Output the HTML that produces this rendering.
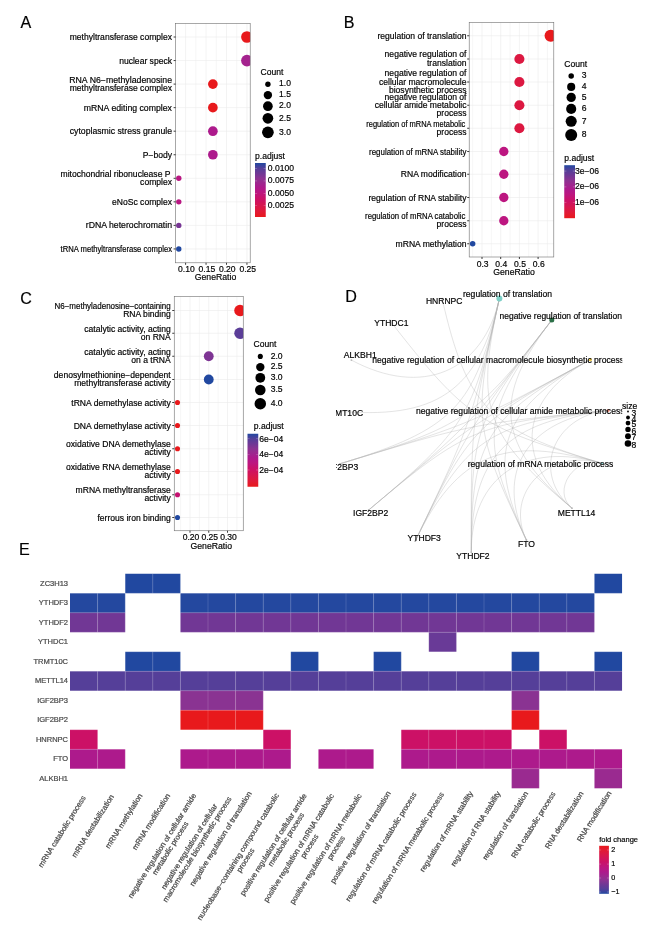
<!DOCTYPE html>
<html><head><meta charset="utf-8"><title>Figure</title>
<style>
html,body{margin:0;padding:0;background:#fff}
svg{display:block}
text{font-family:"Liberation Sans",Arial,Helvetica,sans-serif;stroke:#000;stroke-width:0.18px;paint-order:stroke}
</style></head><body>
<svg width="672" height="945" viewBox="0 0 672 945">
<rect width="672" height="945" fill="#fff"/>
<defs><linearGradient id="gbt" x1="0" y1="0" x2="0" y2="1"><stop offset="0.000" stop-color="#2148a0"/><stop offset="0.100" stop-color="#553f99"/><stop offset="0.200" stop-color="#713795"/><stop offset="0.280" stop-color="#8a3392"/><stop offset="0.350" stop-color="#9a2a90"/><stop offset="0.450" stop-color="#ad1a8c"/><stop offset="0.550" stop-color="#bc1680"/><stop offset="0.670" stop-color="#cc1166"/><stop offset="0.800" stop-color="#d8174c"/><stop offset="0.900" stop-color="#e11a36"/><stop offset="1.000" stop-color="#e8191c"/></linearGradient><linearGradient id="grt" x1="0" y1="0" x2="0" y2="1"><stop offset="0.000" stop-color="#e8191c"/><stop offset="0.100" stop-color="#e11a36"/><stop offset="0.200" stop-color="#d8174c"/><stop offset="0.330" stop-color="#cc1166"/><stop offset="0.450" stop-color="#bc1680"/><stop offset="0.550" stop-color="#ad1a8c"/><stop offset="0.650" stop-color="#9a2a90"/><stop offset="0.720" stop-color="#8a3392"/><stop offset="0.800" stop-color="#713795"/><stop offset="0.900" stop-color="#553f99"/><stop offset="1.000" stop-color="#2148a0"/></linearGradient>
<clipPath id="clipD"><rect x="336" y="282" width="286.2" height="310"/></clipPath>
</defs>
<text x="20.50" y="27.90" font-size="16.1" fill="#000" stroke="none">A</text>
<text x="343.80" y="27.90" font-size="16.1" fill="#000" stroke="none">B</text>
<text x="20.30" y="303.60" font-size="16.1" fill="#000" stroke="none">C</text>
<text x="345.15" y="302.00" font-size="16.1" fill="#000" stroke="none">D</text>
<text x="19.00" y="554.90" font-size="16.1" fill="#000" stroke="none">E</text>
<clipPath id="cpA"><rect x="175.6" y="23.3" width="74.6" height="239.5"/></clipPath>
<line x1="195.82" x2="195.82" y1="23.3" y2="262.8" stroke="#ebebeb" stroke-width="0.45"/>
<line x1="216.27" x2="216.27" y1="23.3" y2="262.8" stroke="#ebebeb" stroke-width="0.45"/>
<line x1="236.72" x2="236.72" y1="23.3" y2="262.8" stroke="#ebebeb" stroke-width="0.45"/>
<line x1="185.60" x2="185.60" y1="23.3" y2="262.8" stroke="#ebebeb" stroke-width="0.6"/>
<line x1="206.05" x2="206.05" y1="23.3" y2="262.8" stroke="#ebebeb" stroke-width="0.6"/>
<line x1="226.50" x2="226.50" y1="23.3" y2="262.8" stroke="#ebebeb" stroke-width="0.6"/>
<line x1="246.95" x2="246.95" y1="23.3" y2="262.8" stroke="#ebebeb" stroke-width="0.6"/>
<line x1="175.6" x2="250.2" y1="37.00" y2="37.00" stroke="#ebebeb" stroke-width="0.6"/>
<line x1="175.6" x2="250.2" y1="60.55" y2="60.55" stroke="#ebebeb" stroke-width="0.6"/>
<line x1="175.6" x2="250.2" y1="84.10" y2="84.10" stroke="#ebebeb" stroke-width="0.6"/>
<line x1="175.6" x2="250.2" y1="107.65" y2="107.65" stroke="#ebebeb" stroke-width="0.6"/>
<line x1="175.6" x2="250.2" y1="131.20" y2="131.20" stroke="#ebebeb" stroke-width="0.6"/>
<line x1="175.6" x2="250.2" y1="154.75" y2="154.75" stroke="#ebebeb" stroke-width="0.6"/>
<line x1="175.6" x2="250.2" y1="178.30" y2="178.30" stroke="#ebebeb" stroke-width="0.6"/>
<line x1="175.6" x2="250.2" y1="201.85" y2="201.85" stroke="#ebebeb" stroke-width="0.6"/>
<line x1="175.6" x2="250.2" y1="225.40" y2="225.40" stroke="#ebebeb" stroke-width="0.6"/>
<line x1="175.6" x2="250.2" y1="248.95" y2="248.95" stroke="#ebebeb" stroke-width="0.6"/>
<g clip-path="url(#cpA)">
<circle cx="246.95" cy="37.00" r="5.85" fill="#e8191c"/>
<circle cx="246.95" cy="60.55" r="5.85" fill="#a4228e"/>
<circle cx="212.87" cy="84.10" r="4.85" fill="#e8191c"/>
<circle cx="212.87" cy="107.65" r="4.85" fill="#e8191c"/>
<circle cx="212.87" cy="131.20" r="4.85" fill="#ad1a8c"/>
<circle cx="212.87" cy="154.75" r="4.85" fill="#ad1a8c"/>
<circle cx="178.78" cy="178.30" r="2.7" fill="#b91782"/>
<circle cx="178.78" cy="201.85" r="2.7" fill="#b91782"/>
<circle cx="178.78" cy="225.40" r="2.7" fill="#773694"/>
<circle cx="178.78" cy="248.95" r="2.7" fill="#2148a0"/>
</g>
<rect x="175.6" y="23.3" width="74.6" height="239.5" fill="none" stroke="#6e6e6e" stroke-width="0.6"/>
<line x1="173.60" x2="175.6" y1="37.00" y2="37.00" stroke="#1a1a1a" stroke-width="0.85"/>
<text x="172.00" y="40.00" font-size="8.57" text-anchor="end" fill="#000">methyltransferase complex</text>
<line x1="173.60" x2="175.6" y1="60.55" y2="60.55" stroke="#1a1a1a" stroke-width="0.85"/>
<text x="172.00" y="63.55" font-size="8.57" text-anchor="end" fill="#000">nuclear speck</text>
<line x1="173.60" x2="175.6" y1="84.10" y2="84.10" stroke="#1a1a1a" stroke-width="0.85"/>
<text x="172.00" y="82.57" font-size="8.57" text-anchor="end" textLength="102.75" lengthAdjust="spacingAndGlyphs" fill="#000">RNA N6−methyladenosine</text>
<text x="172.00" y="90.62" font-size="8.57" text-anchor="end" fill="#000">methyltransferase complex</text>
<line x1="173.60" x2="175.6" y1="107.65" y2="107.65" stroke="#1a1a1a" stroke-width="0.85"/>
<text x="172.00" y="110.65" font-size="8.57" text-anchor="end" textLength="88.25" lengthAdjust="spacingAndGlyphs" fill="#000">mRNA editing complex</text>
<line x1="173.60" x2="175.6" y1="131.20" y2="131.20" stroke="#1a1a1a" stroke-width="0.85"/>
<text x="172.00" y="134.20" font-size="8.57" text-anchor="end" textLength="102.25" lengthAdjust="spacingAndGlyphs" fill="#000">cytoplasmic stress granule</text>
<line x1="173.60" x2="175.6" y1="154.75" y2="154.75" stroke="#1a1a1a" stroke-width="0.85"/>
<text x="172.00" y="157.75" font-size="8.57" text-anchor="end" fill="#000">P−body</text>
<line x1="173.60" x2="175.6" y1="178.30" y2="178.30" stroke="#1a1a1a" stroke-width="0.85"/>
<text x="170.50" y="176.78" font-size="8.57" text-anchor="end" textLength="110.00" lengthAdjust="spacingAndGlyphs" fill="#000">mitochondrial ribonuclease P</text>
<text x="172.00" y="184.83" font-size="8.57" text-anchor="end" fill="#000">complex</text>
<line x1="173.60" x2="175.6" y1="201.85" y2="201.85" stroke="#1a1a1a" stroke-width="0.85"/>
<text x="172.00" y="204.85" font-size="8.57" text-anchor="end" fill="#000">eNoSc complex</text>
<line x1="173.60" x2="175.6" y1="225.40" y2="225.40" stroke="#1a1a1a" stroke-width="0.85"/>
<text x="172.00" y="228.40" font-size="8.57" text-anchor="end" textLength="86.25" lengthAdjust="spacingAndGlyphs" fill="#000">rDNA heterochromatin</text>
<line x1="173.60" x2="175.6" y1="248.95" y2="248.95" stroke="#1a1a1a" stroke-width="0.85"/>
<text x="172.00" y="251.95" font-size="8.57" text-anchor="end" textLength="111.50" lengthAdjust="spacingAndGlyphs" fill="#000">tRNA methyltransferase complex</text>
<line x1="185.60" x2="185.60" y1="262.8" y2="264.80" stroke="#1a1a1a" stroke-width="0.85"/>
<text x="186.40" y="272.00" font-size="8.57" text-anchor="middle" fill="#000">0.10</text>
<line x1="206.05" x2="206.05" y1="262.8" y2="264.80" stroke="#1a1a1a" stroke-width="0.85"/>
<text x="206.85" y="272.00" font-size="8.57" text-anchor="middle" fill="#000">0.15</text>
<line x1="226.50" x2="226.50" y1="262.8" y2="264.80" stroke="#1a1a1a" stroke-width="0.85"/>
<text x="227.30" y="272.00" font-size="8.57" text-anchor="middle" fill="#000">0.20</text>
<line x1="246.95" x2="246.95" y1="262.8" y2="264.80" stroke="#1a1a1a" stroke-width="0.85"/>
<text x="247.75" y="272.00" font-size="8.57" text-anchor="middle" fill="#000">0.25</text>
<text x="215.50" y="280.30" font-size="8.7" text-anchor="middle" fill="#000">GeneRatio</text>
<text x="260.50" y="74.60" font-size="8.57" fill="#000">Count</text>
<circle cx="267.9" cy="84.2" r="2.7" fill="#000"/>
<text x="279.00" y="86.40" font-size="8.57" fill="#000">1.0</text>
<circle cx="267.9" cy="95.1" r="4.2" fill="#000"/>
<text x="279.00" y="97.30" font-size="8.57" fill="#000">1.5</text>
<circle cx="267.9" cy="106.2" r="4.85" fill="#000"/>
<text x="279.00" y="108.40" font-size="8.57" fill="#000">2.0</text>
<circle cx="267.9" cy="118.3" r="5.35" fill="#000"/>
<text x="279.00" y="120.50" font-size="8.57" fill="#000">2.5</text>
<circle cx="267.9" cy="132.3" r="5.85" fill="#000"/>
<text x="279.00" y="134.50" font-size="8.57" fill="#000">3.0</text>
<text x="255.00" y="158.75" font-size="8.57" fill="#000">p.adjust</text>
<rect x="255" y="163" width="10.75" height="54" fill="url(#gbt)"/>
<text x="267.75" y="170.75" font-size="8.57" fill="#000">0.0100</text>
<line x1="255" x2="257.1" y1="168.65" y2="168.65" stroke="#fff" stroke-width="0.4" opacity="0.6"/><line x1="263.6" x2="265.75" y1="168.65" y2="168.65" stroke="#fff" stroke-width="0.4" opacity="0.6"/>
<text x="267.75" y="183.00" font-size="8.57" fill="#000">0.0075</text>
<line x1="255" x2="257.1" y1="180.9" y2="180.9" stroke="#fff" stroke-width="0.4" opacity="0.6"/><line x1="263.6" x2="265.75" y1="180.9" y2="180.9" stroke="#fff" stroke-width="0.4" opacity="0.6"/>
<text x="267.75" y="195.50" font-size="8.57" fill="#000">0.0050</text>
<line x1="255" x2="257.1" y1="193.4" y2="193.4" stroke="#fff" stroke-width="0.4" opacity="0.6"/><line x1="263.6" x2="265.75" y1="193.4" y2="193.4" stroke="#fff" stroke-width="0.4" opacity="0.6"/>
<text x="267.75" y="207.50" font-size="8.57" fill="#000">0.0025</text>
<line x1="255" x2="257.1" y1="205.4" y2="205.4" stroke="#fff" stroke-width="0.4" opacity="0.6"/><line x1="263.6" x2="265.75" y1="205.4" y2="205.4" stroke="#fff" stroke-width="0.4" opacity="0.6"/>
<clipPath id="cpB"><rect x="469.2" y="22.5" width="84.59999999999997" height="234.5"/></clipPath>
<line x1="472.65" x2="472.65" y1="22.5" y2="257" stroke="#ebebeb" stroke-width="0.45"/>
<line x1="491.35" x2="491.35" y1="22.5" y2="257" stroke="#ebebeb" stroke-width="0.45"/>
<line x1="510.05" x2="510.05" y1="22.5" y2="257" stroke="#ebebeb" stroke-width="0.45"/>
<line x1="528.75" x2="528.75" y1="22.5" y2="257" stroke="#ebebeb" stroke-width="0.45"/>
<line x1="547.45" x2="547.45" y1="22.5" y2="257" stroke="#ebebeb" stroke-width="0.45"/>
<line x1="482.00" x2="482.00" y1="22.5" y2="257" stroke="#ebebeb" stroke-width="0.6"/>
<line x1="500.70" x2="500.70" y1="22.5" y2="257" stroke="#ebebeb" stroke-width="0.6"/>
<line x1="519.40" x2="519.40" y1="22.5" y2="257" stroke="#ebebeb" stroke-width="0.6"/>
<line x1="538.10" x2="538.10" y1="22.5" y2="257" stroke="#ebebeb" stroke-width="0.6"/>
<line x1="469.2" x2="553.8" y1="35.75" y2="35.75" stroke="#ebebeb" stroke-width="0.6"/>
<line x1="469.2" x2="553.8" y1="59.00" y2="59.00" stroke="#ebebeb" stroke-width="0.6"/>
<line x1="469.2" x2="553.8" y1="82.00" y2="82.00" stroke="#ebebeb" stroke-width="0.6"/>
<line x1="469.2" x2="553.8" y1="105.25" y2="105.25" stroke="#ebebeb" stroke-width="0.6"/>
<line x1="469.2" x2="553.8" y1="128.25" y2="128.25" stroke="#ebebeb" stroke-width="0.6"/>
<line x1="469.2" x2="553.8" y1="151.50" y2="151.50" stroke="#ebebeb" stroke-width="0.6"/>
<line x1="469.2" x2="553.8" y1="174.25" y2="174.25" stroke="#ebebeb" stroke-width="0.6"/>
<line x1="469.2" x2="553.8" y1="197.50" y2="197.50" stroke="#ebebeb" stroke-width="0.6"/>
<line x1="469.2" x2="553.8" y1="220.75" y2="220.75" stroke="#ebebeb" stroke-width="0.6"/>
<line x1="469.2" x2="553.8" y1="243.75" y2="243.75" stroke="#ebebeb" stroke-width="0.6"/>
<g clip-path="url(#cpB)">
<circle cx="550.57" cy="35.75" r="6.0" fill="#e8191c"/>
<circle cx="519.40" cy="59.00" r="5.05" fill="#dc1841"/>
<circle cx="519.40" cy="82.00" r="5.05" fill="#dc1841"/>
<circle cx="519.40" cy="105.25" r="5.05" fill="#dc1841"/>
<circle cx="519.40" cy="128.25" r="5.05" fill="#dc1841"/>
<circle cx="503.82" cy="151.50" r="4.65" fill="#bc1680"/>
<circle cx="503.82" cy="174.25" r="4.65" fill="#bc1680"/>
<circle cx="503.82" cy="197.50" r="4.65" fill="#bc1680"/>
<circle cx="503.82" cy="220.75" r="4.65" fill="#bc1680"/>
<circle cx="472.65" cy="243.75" r="2.75" fill="#2148a0"/>
</g>
<rect x="469.2" y="22.5" width="84.59999999999997" height="234.5" fill="none" stroke="#6e6e6e" stroke-width="0.6"/>
<line x1="467.20" x2="469.2" y1="35.75" y2="35.75" stroke="#1a1a1a" stroke-width="0.85"/>
<text x="466.50" y="38.75" font-size="8.57" text-anchor="end" fill="#000">regulation of translation</text>
<line x1="467.20" x2="469.2" y1="59.00" y2="59.00" stroke="#1a1a1a" stroke-width="0.85"/>
<text x="466.50" y="57.48" font-size="8.57" text-anchor="end" fill="#000">negative regulation of</text>
<text x="466.50" y="65.53" font-size="8.57" text-anchor="end" fill="#000">translation</text>
<line x1="467.20" x2="469.2" y1="82.00" y2="82.00" stroke="#1a1a1a" stroke-width="0.85"/>
<text x="466.50" y="76.45" font-size="8.57" text-anchor="end" fill="#000">negative regulation of</text>
<text x="466.50" y="84.50" font-size="8.57" text-anchor="end" fill="#000">cellular macromolecule</text>
<text x="466.50" y="92.55" font-size="8.57" text-anchor="end" fill="#000">biosynthetic process</text>
<line x1="467.20" x2="469.2" y1="105.25" y2="105.25" stroke="#1a1a1a" stroke-width="0.85"/>
<text x="466.50" y="99.70" font-size="8.57" text-anchor="end" fill="#000">negative regulation of</text>
<text x="466.50" y="107.75" font-size="8.57" text-anchor="end" fill="#000">cellular amide metabolic</text>
<text x="466.50" y="115.80" font-size="8.57" text-anchor="end" fill="#000">process</text>
<line x1="467.20" x2="469.2" y1="128.25" y2="128.25" stroke="#1a1a1a" stroke-width="0.85"/>
<text x="465.30" y="126.72" font-size="8.57" text-anchor="end" textLength="99.00" lengthAdjust="spacingAndGlyphs" fill="#000">regulation of mRNA metabolic</text>
<text x="466.50" y="134.78" font-size="8.57" text-anchor="end" fill="#000">process</text>
<line x1="467.20" x2="469.2" y1="151.50" y2="151.50" stroke="#1a1a1a" stroke-width="0.85"/>
<text x="466.50" y="154.50" font-size="8.57" text-anchor="end" textLength="97.50" lengthAdjust="spacingAndGlyphs" fill="#000">regulation of mRNA stability</text>
<line x1="467.20" x2="469.2" y1="174.25" y2="174.25" stroke="#1a1a1a" stroke-width="0.85"/>
<text x="466.50" y="177.25" font-size="8.57" text-anchor="end" fill="#000">RNA modification</text>
<line x1="467.20" x2="469.2" y1="197.50" y2="197.50" stroke="#1a1a1a" stroke-width="0.85"/>
<text x="466.50" y="200.50" font-size="8.57" text-anchor="end" fill="#000">regulation of RNA stability</text>
<line x1="467.20" x2="469.2" y1="220.75" y2="220.75" stroke="#1a1a1a" stroke-width="0.85"/>
<text x="465.30" y="219.22" font-size="8.57" text-anchor="end" textLength="100.25" lengthAdjust="spacingAndGlyphs" fill="#000">regulation of mRNA catabolic</text>
<text x="466.50" y="227.28" font-size="8.57" text-anchor="end" fill="#000">process</text>
<line x1="467.20" x2="469.2" y1="243.75" y2="243.75" stroke="#1a1a1a" stroke-width="0.85"/>
<text x="466.50" y="246.75" font-size="8.57" text-anchor="end" fill="#000">mRNA methylation</text>
<line x1="482.00" x2="482.00" y1="257" y2="259.00" stroke="#1a1a1a" stroke-width="0.85"/>
<text x="482.60" y="266.60" font-size="8.57" text-anchor="middle" fill="#000">0.3</text>
<line x1="500.70" x2="500.70" y1="257" y2="259.00" stroke="#1a1a1a" stroke-width="0.85"/>
<text x="501.30" y="266.60" font-size="8.57" text-anchor="middle" fill="#000">0.4</text>
<line x1="519.40" x2="519.40" y1="257" y2="259.00" stroke="#1a1a1a" stroke-width="0.85"/>
<text x="520.00" y="266.60" font-size="8.57" text-anchor="middle" fill="#000">0.5</text>
<line x1="538.10" x2="538.10" y1="257" y2="259.00" stroke="#1a1a1a" stroke-width="0.85"/>
<text x="538.70" y="266.60" font-size="8.57" text-anchor="middle" fill="#000">0.6</text>
<text x="514.00" y="275.00" font-size="8.7" text-anchor="middle" fill="#000">GeneRatio</text>
<text x="564.25" y="66.80" font-size="8.57" fill="#000">Count</text>
<circle cx="571.2" cy="76.0" r="2.75" fill="#000"/>
<text x="581.70" y="78.40" font-size="8.57" fill="#000">3</text>
<circle cx="571.2" cy="86.9" r="4.05" fill="#000"/>
<text x="581.70" y="89.30" font-size="8.57" fill="#000">4</text>
<circle cx="571.2" cy="97.4" r="4.65" fill="#000"/>
<text x="581.70" y="99.80" font-size="8.57" fill="#000">5</text>
<circle cx="571.2" cy="108.9" r="5.05" fill="#000"/>
<text x="581.70" y="111.30" font-size="8.57" fill="#000">6</text>
<circle cx="571.2" cy="121.3" r="5.55" fill="#000"/>
<text x="581.70" y="123.70" font-size="8.57" fill="#000">7</text>
<circle cx="571.2" cy="134.9" r="6.0" fill="#000"/>
<text x="581.70" y="137.30" font-size="8.57" fill="#000">8</text>
<text x="564.25" y="161.40" font-size="8.57" fill="#000">p.adjust</text>
<rect x="564.25" y="165.2" width="10.75" height="53" fill="url(#gbt)"/>
<text x="574.90" y="173.50" font-size="8.57" fill="#000">3e−06</text>
<line x1="564.25" x2="566.4" y1="171.1" y2="171.1" stroke="#fff" stroke-width="0.4" opacity="0.6"/><line x1="572.85" x2="575" y1="171.1" y2="171.1" stroke="#fff" stroke-width="0.4" opacity="0.6"/>
<text x="574.90" y="189.25" font-size="8.57" fill="#000">2e−06</text>
<line x1="564.25" x2="566.4" y1="186.85" y2="186.85" stroke="#fff" stroke-width="0.4" opacity="0.6"/><line x1="572.85" x2="575" y1="186.85" y2="186.85" stroke="#fff" stroke-width="0.4" opacity="0.6"/>
<text x="574.90" y="205.00" font-size="8.57" fill="#000">1e−06</text>
<line x1="564.25" x2="566.4" y1="202.6" y2="202.6" stroke="#fff" stroke-width="0.4" opacity="0.6"/><line x1="572.85" x2="575" y1="202.6" y2="202.6" stroke="#fff" stroke-width="0.4" opacity="0.6"/>
<clipPath id="cpC"><rect x="174.25" y="296.5" width="69.0" height="234.25"/></clipPath>
<line x1="180.62" x2="180.62" y1="296.5" y2="530.75" stroke="#ebebeb" stroke-width="0.45"/>
<line x1="199.38" x2="199.38" y1="296.5" y2="530.75" stroke="#ebebeb" stroke-width="0.45"/>
<line x1="218.12" x2="218.12" y1="296.5" y2="530.75" stroke="#ebebeb" stroke-width="0.45"/>
<line x1="236.88" x2="236.88" y1="296.5" y2="530.75" stroke="#ebebeb" stroke-width="0.45"/>
<line x1="190.00" x2="190.00" y1="296.5" y2="530.75" stroke="#ebebeb" stroke-width="0.6"/>
<line x1="208.75" x2="208.75" y1="296.5" y2="530.75" stroke="#ebebeb" stroke-width="0.6"/>
<line x1="227.50" x2="227.50" y1="296.5" y2="530.75" stroke="#ebebeb" stroke-width="0.6"/>
<line x1="174.25" x2="243.25" y1="310.50" y2="310.50" stroke="#ebebeb" stroke-width="0.6"/>
<line x1="174.25" x2="243.25" y1="333.25" y2="333.25" stroke="#ebebeb" stroke-width="0.6"/>
<line x1="174.25" x2="243.25" y1="356.25" y2="356.25" stroke="#ebebeb" stroke-width="0.6"/>
<line x1="174.25" x2="243.25" y1="379.50" y2="379.50" stroke="#ebebeb" stroke-width="0.6"/>
<line x1="174.25" x2="243.25" y1="402.50" y2="402.50" stroke="#ebebeb" stroke-width="0.6"/>
<line x1="174.25" x2="243.25" y1="425.50" y2="425.50" stroke="#ebebeb" stroke-width="0.6"/>
<line x1="174.25" x2="243.25" y1="448.75" y2="448.75" stroke="#ebebeb" stroke-width="0.6"/>
<line x1="174.25" x2="243.25" y1="471.50" y2="471.50" stroke="#ebebeb" stroke-width="0.6"/>
<line x1="174.25" x2="243.25" y1="494.75" y2="494.75" stroke="#ebebeb" stroke-width="0.6"/>
<line x1="174.25" x2="243.25" y1="517.50" y2="517.50" stroke="#ebebeb" stroke-width="0.6"/>
<g clip-path="url(#cpC)">
<circle cx="240.00" cy="310.50" r="5.75" fill="#e8191c"/>
<circle cx="240.00" cy="333.25" r="5.75" fill="#5b3d98"/>
<circle cx="208.75" cy="356.25" r="4.9" fill="#7e3594"/>
<circle cx="208.75" cy="379.50" r="4.9" fill="#2148a0"/>
<circle cx="177.50" cy="402.50" r="2.55" fill="#e8191c"/>
<circle cx="177.50" cy="425.50" r="2.55" fill="#e8191c"/>
<circle cx="177.50" cy="448.75" r="2.55" fill="#e8191c"/>
<circle cx="177.50" cy="471.50" r="2.55" fill="#e8191c"/>
<circle cx="177.50" cy="494.75" r="2.55" fill="#c51371"/>
<circle cx="177.50" cy="517.50" r="2.55" fill="#2148a0"/>
</g>
<rect x="174.25" y="296.5" width="69.0" height="234.25" fill="none" stroke="#6e6e6e" stroke-width="0.6"/>
<line x1="172.25" x2="174.25" y1="310.50" y2="310.50" stroke="#1a1a1a" stroke-width="0.85"/>
<text x="170.75" y="308.98" font-size="8.57" text-anchor="end" textLength="116.25" lengthAdjust="spacingAndGlyphs" fill="#000">N6−methyladenosine−containing</text>
<text x="170.75" y="317.02" font-size="8.57" text-anchor="end" fill="#000">RNA binding</text>
<line x1="172.25" x2="174.25" y1="333.25" y2="333.25" stroke="#1a1a1a" stroke-width="0.85"/>
<text x="170.75" y="331.73" font-size="8.57" text-anchor="end" fill="#000">catalytic activity, acting</text>
<text x="170.75" y="339.77" font-size="8.57" text-anchor="end" fill="#000">on RNA</text>
<line x1="172.25" x2="174.25" y1="356.25" y2="356.25" stroke="#1a1a1a" stroke-width="0.85"/>
<text x="170.75" y="354.73" font-size="8.57" text-anchor="end" fill="#000">catalytic activity, acting</text>
<text x="170.75" y="362.77" font-size="8.57" text-anchor="end" fill="#000">on a tRNA</text>
<line x1="172.25" x2="174.25" y1="379.50" y2="379.50" stroke="#1a1a1a" stroke-width="0.85"/>
<text x="170.75" y="377.98" font-size="8.57" text-anchor="end" fill="#000">denosylmethionine−dependent</text>
<text x="170.75" y="386.02" font-size="8.57" text-anchor="end" fill="#000">methyltransferase activity</text>
<line x1="172.25" x2="174.25" y1="402.50" y2="402.50" stroke="#1a1a1a" stroke-width="0.85"/>
<text x="170.75" y="405.50" font-size="8.57" text-anchor="end" fill="#000">tRNA demethylase activity</text>
<line x1="172.25" x2="174.25" y1="425.50" y2="425.50" stroke="#1a1a1a" stroke-width="0.85"/>
<text x="170.75" y="428.50" font-size="8.57" text-anchor="end" fill="#000">DNA demethylase activity</text>
<line x1="172.25" x2="174.25" y1="448.75" y2="448.75" stroke="#1a1a1a" stroke-width="0.85"/>
<text x="170.75" y="447.23" font-size="8.57" text-anchor="end" fill="#000">oxidative DNA demethylase</text>
<text x="170.75" y="455.27" font-size="8.57" text-anchor="end" fill="#000">activity</text>
<line x1="172.25" x2="174.25" y1="471.50" y2="471.50" stroke="#1a1a1a" stroke-width="0.85"/>
<text x="170.75" y="469.98" font-size="8.57" text-anchor="end" fill="#000">oxidative RNA demethylase</text>
<text x="170.75" y="478.02" font-size="8.57" text-anchor="end" fill="#000">activity</text>
<line x1="172.25" x2="174.25" y1="494.75" y2="494.75" stroke="#1a1a1a" stroke-width="0.85"/>
<text x="170.75" y="493.23" font-size="8.57" text-anchor="end" fill="#000">mRNA methyltransferase</text>
<text x="170.75" y="501.27" font-size="8.57" text-anchor="end" fill="#000">activity</text>
<line x1="172.25" x2="174.25" y1="517.50" y2="517.50" stroke="#1a1a1a" stroke-width="0.85"/>
<text x="170.75" y="520.50" font-size="8.57" text-anchor="end" fill="#000">ferrous iron binding</text>
<line x1="190.00" x2="190.00" y1="530.75" y2="532.75" stroke="#1a1a1a" stroke-width="0.85"/>
<text x="191.00" y="540.00" font-size="8.57" text-anchor="middle" fill="#000">0.20</text>
<line x1="208.75" x2="208.75" y1="530.75" y2="532.75" stroke="#1a1a1a" stroke-width="0.85"/>
<text x="209.75" y="540.00" font-size="8.57" text-anchor="middle" fill="#000">0.25</text>
<line x1="227.50" x2="227.50" y1="530.75" y2="532.75" stroke="#1a1a1a" stroke-width="0.85"/>
<text x="228.50" y="540.00" font-size="8.57" text-anchor="middle" fill="#000">0.30</text>
<text x="211.25" y="548.75" font-size="8.7" text-anchor="middle" fill="#000">GeneRatio</text>
<text x="253.50" y="346.90" font-size="8.57" fill="#000">Count</text>
<circle cx="260.3" cy="356.4" r="2.55" fill="#000"/>
<text x="270.70" y="358.60" font-size="8.57" fill="#000">2.0</text>
<circle cx="260.3" cy="367.1" r="4.2" fill="#000"/>
<text x="270.70" y="369.30" font-size="8.57" fill="#000">2.5</text>
<circle cx="260.3" cy="377.8" r="4.9" fill="#000"/>
<text x="270.70" y="380.00" font-size="8.57" fill="#000">3.0</text>
<circle cx="260.3" cy="390.0" r="5.3" fill="#000"/>
<text x="270.70" y="392.20" font-size="8.57" fill="#000">3.5</text>
<circle cx="260.3" cy="403.7" r="5.75" fill="#000"/>
<text x="270.70" y="405.90" font-size="8.57" fill="#000">4.0</text>
<text x="253.75" y="429.30" font-size="8.57" fill="#000">p.adjust</text>
<rect x="247.5" y="433.75" width="10.75" height="53" fill="url(#gbt)"/>
<text x="259.25" y="441.75" font-size="8.57" fill="#000">6e−04</text>
<line x1="247.5" x2="249.6" y1="438.75" y2="438.75" stroke="#fff" stroke-width="0.4" opacity="0.6"/><line x1="256.1" x2="258.25" y1="438.75" y2="438.75" stroke="#fff" stroke-width="0.4" opacity="0.6"/>
<text x="259.25" y="457.25" font-size="8.57" fill="#000">4e−04</text>
<line x1="247.5" x2="249.6" y1="454.25" y2="454.25" stroke="#fff" stroke-width="0.4" opacity="0.6"/><line x1="256.1" x2="258.25" y1="454.25" y2="454.25" stroke="#fff" stroke-width="0.4" opacity="0.6"/>
<text x="259.25" y="473.00" font-size="8.57" fill="#000">2e−04</text>
<line x1="247.5" x2="249.6" y1="470" y2="470" stroke="#fff" stroke-width="0.4" opacity="0.6"/><line x1="256.1" x2="258.25" y1="470" y2="470" stroke="#fff" stroke-width="0.4" opacity="0.6"/>
<g clip-path="url(#clipD)">
<g fill="none" stroke="#b0b0b0" stroke-width="0.35">
<path d="M415.2 541.2C470.7 424.6 471.2 423.3 499.4 298.6"/>
<path d="M471.3 552.2C471.0 424.7 471.2 423.3 499.4 298.6"/>
<path d="M333.8 410.8C435.8 420.6 478.3 391.8 499.4 298.6"/>
<path d="M572.0 508.2C484.5 435.3 474.8 407.2 499.4 298.6"/>
<path d="M339.9 463.8C453.4 429.3 474.8 407.2 499.4 298.6"/>
<path d="M368.7 510.0C466.0 428.2 472.4 417.9 499.4 298.6"/>
<path d="M526.4 540.0C473.7 429.7 472.4 417.9 499.4 298.6"/>
<path d="M351.4 360.1C421.7 397.7 482.7 372.3 499.4 298.6"/>
<path d="M415.2 541.2C470.7 424.6 471.4 423.4 551.8 320.1"/>
<path d="M471.3 552.2C471.0 430.3 475.0 418.9 551.8 320.1"/>
<path d="M572.0 508.2C496.9 445.6 491.8 397.3 551.8 320.1"/>
<path d="M339.9 463.8C464.6 426.0 475.0 418.9 551.8 320.1"/>
<path d="M368.7 510.0C470.4 424.5 471.4 423.4 551.8 320.1"/>
<path d="M526.4 540.0C478.4 439.5 481.8 410.1 551.8 320.1"/>
<path d="M415.2 541.2C468.3 429.7 476.8 420.9 590.3 359.7"/>
<path d="M471.3 552.2C471.0 441.2 487.0 415.4 590.3 359.7"/>
<path d="M572.0 508.2C512.6 458.7 520.2 397.5 590.3 359.7"/>
<path d="M339.9 463.8C470.3 424.2 471.7 423.6 590.3 359.7"/>
<path d="M368.7 510.0C470.4 424.5 471.7 423.6 590.3 359.7"/>
<path d="M526.4 540.0C485.2 453.8 501.6 407.5 590.3 359.7"/>
<path d="M415.2 541.2C463.5 439.7 489.4 422.2 608.1 410.4"/>
<path d="M471.3 552.2C471.1 456.9 506.2 420.5 608.1 410.4"/>
<path d="M572.0 508.2C530.9 474.0 552.3 415.9 608.1 410.4"/>
<path d="M339.9 463.8C470.3 424.2 471.8 423.9 608.1 410.4"/>
<path d="M368.7 510.0C466.0 428.2 477.7 423.3 608.1 410.4"/>
<path d="M526.4 540.0C493.8 471.8 527.5 418.4 608.1 410.4"/>
<path d="M415.2 541.2C456.7 454.1 504.7 434.1 602.2 463.4"/>
<path d="M471.3 552.2C471.1 476.8 525.1 440.2 602.2 463.4"/>
<path d="M389.7 320.4C467.0 418.9 477.4 425.9 602.2 463.4"/>
<path d="M572.0 508.2C551.0 490.7 574.9 455.2 602.2 463.4"/>
<path d="M442.1 298.7C467.1 407.2 488.6 429.3 602.2 463.4"/>
<path d="M526.4 540.0C503.9 492.8 548.9 447.4 602.2 463.4"/>
</g>
<circle cx="499.4" cy="298.6" r="3.0" fill="#7fd0c7"/>
<circle cx="551.8" cy="320.1" r="2.5" fill="#2c7048"/>
<circle cx="590.3" cy="359.7" r="1.6" fill="#f5cf4a"/>
<circle cx="608.1" cy="410.4" r="1.5" fill="#f08a76"/>
<circle cx="602.2" cy="463.4" r="1.1" fill="#8fd8d8"/>
<circle cx="572.0" cy="508.2" r="0.9" fill="#b8b8b8"/>
<circle cx="526.4" cy="540.0" r="0.9" fill="#b8b8b8"/>
<circle cx="471.3" cy="552.2" r="0.9" fill="#b8b8b8"/>
<circle cx="415.2" cy="541.2" r="0.9" fill="#b8b8b8"/>
<circle cx="368.7" cy="510.0" r="0.9" fill="#b8b8b8"/>
<circle cx="339.9" cy="463.8" r="0.9" fill="#b8b8b8"/>
<circle cx="333.8" cy="410.8" r="0.9" fill="#b8b8b8"/>
<circle cx="351.4" cy="360.1" r="0.9" fill="#b8b8b8"/>
<circle cx="389.7" cy="320.4" r="0.9" fill="#b8b8b8"/>
<circle cx="442.1" cy="298.7" r="0.9" fill="#b8b8b8"/>
<text x="463.00" y="297.00" font-size="8.57" fill="#000">regulation of translation</text>
<text x="499.50" y="319.25" font-size="8.57" textLength="122.40" lengthAdjust="spacingAndGlyphs" fill="#000">negative regulation of translation</text>
<text x="372.25" y="363.00" font-size="8.57" fill="#000">negative regulation of cellular macromolecule biosynthetic process</text>
<text x="416.00" y="413.70" font-size="8.57" fill="#000">negative regulation of cellular amide metabolic process</text>
<text x="467.75" y="466.75" font-size="8.57" fill="#000">regulation of mRNA metabolic process</text>
<text x="425.90" y="304.25" font-size="8.57" fill="#000">HNRNPC</text>
<text x="374.20" y="325.70" font-size="8.57" fill="#000">YTHDC1</text>
<text x="343.80" y="357.70" font-size="8.57" fill="#000">ALKBH1</text>
<text x="323.60" y="416.00" font-size="8.57" fill="#000">TRMT10C</text>
<text x="323.00" y="469.75" font-size="8.57" fill="#000">IGF2BP3</text>
<text x="353.00" y="516.25" font-size="8.57" fill="#000">IGF2BP2</text>
<text x="407.50" y="540.50" font-size="8.57" fill="#000">YTHDF3</text>
<text x="456.25" y="559.25" font-size="8.57" fill="#000">YTHDF2</text>
<text x="518.00" y="547.25" font-size="8.57" fill="#000">FTO</text>
<text x="557.75" y="516.00" font-size="8.57" fill="#000">METTL14</text>
</g>
<text x="622.00" y="408.50" font-size="8.57" fill="#000">size</text>
<circle cx="628" cy="411.5" r="0.9" fill="#000"/>
<text x="631.60" y="415.70" font-size="8.57" fill="#000">3</text>
<circle cx="628" cy="417.5" r="1.9" fill="#000"/>
<text x="631.60" y="421.70" font-size="8.57" fill="#000">4</text>
<circle cx="628" cy="423.1" r="2.4" fill="#000"/>
<text x="631.60" y="427.30" font-size="8.57" fill="#000">5</text>
<circle cx="628" cy="429.4" r="2.7" fill="#000"/>
<text x="631.60" y="433.60" font-size="8.57" fill="#000">6</text>
<circle cx="628" cy="436.25" r="2.95" fill="#000"/>
<text x="631.60" y="440.45" font-size="8.57" fill="#000">7</text>
<circle cx="628" cy="443.5" r="3.3" fill="#000"/>
<text x="631.60" y="447.70" font-size="8.57" fill="#000">8</text>
<rect x="125.20" y="573.75" width="27.65" height="19.55" fill="#2148a0"/>
<rect x="152.80" y="573.75" width="27.65" height="19.55" fill="#2148a0"/>
<rect x="594.40" y="573.75" width="27.65" height="19.55" fill="#2148a0"/>
<text x="68.00" y="585.70" font-size="7.5" text-anchor="end" fill="#4d4d4d" stroke="none">ZC3H13</text>
<rect x="70.00" y="593.25" width="27.65" height="19.55" fill="#24489f"/>
<rect x="97.60" y="593.25" width="27.65" height="19.55" fill="#24489f"/>
<rect x="180.40" y="593.25" width="27.65" height="19.55" fill="#24489f"/>
<rect x="208.00" y="593.25" width="27.65" height="19.55" fill="#24489f"/>
<rect x="235.60" y="593.25" width="27.65" height="19.55" fill="#24489f"/>
<rect x="263.20" y="593.25" width="27.65" height="19.55" fill="#24489f"/>
<rect x="290.80" y="593.25" width="27.65" height="19.55" fill="#24489f"/>
<rect x="318.40" y="593.25" width="27.65" height="19.55" fill="#24489f"/>
<rect x="346.00" y="593.25" width="27.65" height="19.55" fill="#24489f"/>
<rect x="373.60" y="593.25" width="27.65" height="19.55" fill="#24489f"/>
<rect x="401.20" y="593.25" width="27.65" height="19.55" fill="#24489f"/>
<rect x="428.80" y="593.25" width="27.65" height="19.55" fill="#24489f"/>
<rect x="456.40" y="593.25" width="27.65" height="19.55" fill="#24489f"/>
<rect x="484.00" y="593.25" width="27.65" height="19.55" fill="#24489f"/>
<rect x="511.60" y="593.25" width="27.65" height="19.55" fill="#24489f"/>
<rect x="539.20" y="593.25" width="27.65" height="19.55" fill="#24489f"/>
<rect x="566.80" y="593.25" width="27.65" height="19.55" fill="#24489f"/>
<text x="68.00" y="605.20" font-size="7.5" text-anchor="end" fill="#4d4d4d" stroke="none">YTHDF3</text>
<rect x="70.00" y="612.75" width="27.65" height="19.55" fill="#713795"/>
<rect x="97.60" y="612.75" width="27.65" height="19.55" fill="#713795"/>
<rect x="180.40" y="612.75" width="27.65" height="19.55" fill="#713795"/>
<rect x="208.00" y="612.75" width="27.65" height="19.55" fill="#713795"/>
<rect x="235.60" y="612.75" width="27.65" height="19.55" fill="#713795"/>
<rect x="263.20" y="612.75" width="27.65" height="19.55" fill="#713795"/>
<rect x="290.80" y="612.75" width="27.65" height="19.55" fill="#713795"/>
<rect x="318.40" y="612.75" width="27.65" height="19.55" fill="#713795"/>
<rect x="346.00" y="612.75" width="27.65" height="19.55" fill="#713795"/>
<rect x="373.60" y="612.75" width="27.65" height="19.55" fill="#713795"/>
<rect x="401.20" y="612.75" width="27.65" height="19.55" fill="#713795"/>
<rect x="428.80" y="612.75" width="27.65" height="19.55" fill="#713795"/>
<rect x="456.40" y="612.75" width="27.65" height="19.55" fill="#713795"/>
<rect x="484.00" y="612.75" width="27.65" height="19.55" fill="#713795"/>
<rect x="511.60" y="612.75" width="27.65" height="19.55" fill="#713795"/>
<rect x="539.20" y="612.75" width="27.65" height="19.55" fill="#713795"/>
<rect x="566.80" y="612.75" width="27.65" height="19.55" fill="#713795"/>
<text x="68.00" y="624.70" font-size="7.5" text-anchor="end" fill="#4d4d4d" stroke="none">YTHDF2</text>
<rect x="428.80" y="632.25" width="27.65" height="19.55" fill="#693a97"/>
<text x="68.00" y="644.20" font-size="7.5" text-anchor="end" fill="#4d4d4d" stroke="none">YTHDC1</text>
<rect x="125.20" y="651.75" width="27.65" height="19.55" fill="#2148a0"/>
<rect x="152.80" y="651.75" width="27.65" height="19.55" fill="#2148a0"/>
<rect x="290.80" y="651.75" width="27.65" height="19.55" fill="#2148a0"/>
<rect x="373.60" y="651.75" width="27.65" height="19.55" fill="#2148a0"/>
<rect x="511.60" y="651.75" width="27.65" height="19.55" fill="#2148a0"/>
<rect x="594.40" y="651.75" width="27.65" height="19.55" fill="#2148a0"/>
<text x="68.00" y="663.70" font-size="7.5" text-anchor="end" fill="#4d4d4d" stroke="none">TRMT10C</text>
<rect x="70.00" y="671.25" width="27.65" height="19.55" fill="#553f99"/>
<rect x="97.60" y="671.25" width="27.65" height="19.55" fill="#553f99"/>
<rect x="125.20" y="671.25" width="27.65" height="19.55" fill="#553f99"/>
<rect x="152.80" y="671.25" width="27.65" height="19.55" fill="#553f99"/>
<rect x="180.40" y="671.25" width="27.65" height="19.55" fill="#553f99"/>
<rect x="208.00" y="671.25" width="27.65" height="19.55" fill="#553f99"/>
<rect x="235.60" y="671.25" width="27.65" height="19.55" fill="#553f99"/>
<rect x="263.20" y="671.25" width="27.65" height="19.55" fill="#553f99"/>
<rect x="290.80" y="671.25" width="27.65" height="19.55" fill="#553f99"/>
<rect x="318.40" y="671.25" width="27.65" height="19.55" fill="#553f99"/>
<rect x="346.00" y="671.25" width="27.65" height="19.55" fill="#553f99"/>
<rect x="373.60" y="671.25" width="27.65" height="19.55" fill="#553f99"/>
<rect x="401.20" y="671.25" width="27.65" height="19.55" fill="#553f99"/>
<rect x="428.80" y="671.25" width="27.65" height="19.55" fill="#553f99"/>
<rect x="456.40" y="671.25" width="27.65" height="19.55" fill="#553f99"/>
<rect x="484.00" y="671.25" width="27.65" height="19.55" fill="#553f99"/>
<rect x="511.60" y="671.25" width="27.65" height="19.55" fill="#553f99"/>
<rect x="539.20" y="671.25" width="27.65" height="19.55" fill="#553f99"/>
<rect x="566.80" y="671.25" width="27.65" height="19.55" fill="#553f99"/>
<rect x="594.40" y="671.25" width="27.65" height="19.55" fill="#553f99"/>
<text x="68.00" y="683.20" font-size="7.5" text-anchor="end" fill="#4d4d4d" stroke="none">METTL14</text>
<rect x="180.40" y="690.75" width="27.65" height="19.55" fill="#8a3392"/>
<rect x="208.00" y="690.75" width="27.65" height="19.55" fill="#8a3392"/>
<rect x="235.60" y="690.75" width="27.65" height="19.55" fill="#8a3392"/>
<rect x="511.60" y="690.75" width="27.65" height="19.55" fill="#8a3392"/>
<text x="68.00" y="702.70" font-size="7.5" text-anchor="end" fill="#4d4d4d" stroke="none">IGF2BP3</text>
<rect x="180.40" y="710.25" width="27.65" height="19.55" fill="#e8191c"/>
<rect x="208.00" y="710.25" width="27.65" height="19.55" fill="#e8191c"/>
<rect x="235.60" y="710.25" width="27.65" height="19.55" fill="#e8191c"/>
<rect x="511.60" y="710.25" width="27.65" height="19.55" fill="#e8191c"/>
<text x="68.00" y="722.20" font-size="7.5" text-anchor="end" fill="#4d4d4d" stroke="none">IGF2BP2</text>
<rect x="70.00" y="729.75" width="27.65" height="19.55" fill="#cc1166"/>
<rect x="263.20" y="729.75" width="27.65" height="19.55" fill="#cc1166"/>
<rect x="401.20" y="729.75" width="27.65" height="19.55" fill="#cc1166"/>
<rect x="428.80" y="729.75" width="27.65" height="19.55" fill="#cc1166"/>
<rect x="456.40" y="729.75" width="27.65" height="19.55" fill="#cc1166"/>
<rect x="484.00" y="729.75" width="27.65" height="19.55" fill="#cc1166"/>
<rect x="539.20" y="729.75" width="27.65" height="19.55" fill="#cc1166"/>
<text x="68.00" y="741.70" font-size="7.5" text-anchor="end" fill="#4d4d4d" stroke="none">HNRNPC</text>
<rect x="70.00" y="749.25" width="27.65" height="19.55" fill="#ad1a8c"/>
<rect x="97.60" y="749.25" width="27.65" height="19.55" fill="#ad1a8c"/>
<rect x="180.40" y="749.25" width="27.65" height="19.55" fill="#ad1a8c"/>
<rect x="208.00" y="749.25" width="27.65" height="19.55" fill="#ad1a8c"/>
<rect x="235.60" y="749.25" width="27.65" height="19.55" fill="#ad1a8c"/>
<rect x="263.20" y="749.25" width="27.65" height="19.55" fill="#ad1a8c"/>
<rect x="318.40" y="749.25" width="27.65" height="19.55" fill="#ad1a8c"/>
<rect x="346.00" y="749.25" width="27.65" height="19.55" fill="#ad1a8c"/>
<rect x="401.20" y="749.25" width="27.65" height="19.55" fill="#ad1a8c"/>
<rect x="428.80" y="749.25" width="27.65" height="19.55" fill="#ad1a8c"/>
<rect x="456.40" y="749.25" width="27.65" height="19.55" fill="#ad1a8c"/>
<rect x="484.00" y="749.25" width="27.65" height="19.55" fill="#ad1a8c"/>
<rect x="511.60" y="749.25" width="27.65" height="19.55" fill="#ad1a8c"/>
<rect x="539.20" y="749.25" width="27.65" height="19.55" fill="#ad1a8c"/>
<rect x="566.80" y="749.25" width="27.65" height="19.55" fill="#ad1a8c"/>
<rect x="594.40" y="749.25" width="27.65" height="19.55" fill="#ad1a8c"/>
<text x="68.00" y="761.20" font-size="7.5" text-anchor="end" fill="#4d4d4d" stroke="none">FTO</text>
<rect x="511.60" y="768.75" width="27.65" height="19.55" fill="#9a2a90"/>
<rect x="594.40" y="768.75" width="27.65" height="19.55" fill="#9a2a90"/>
<text x="68.00" y="780.70" font-size="7.5" text-anchor="end" fill="#4d4d4d" stroke="none">ALKBH1</text>
<g stroke="#fff" stroke-width="0.35" opacity="0.4">
<line x1="97.60" x2="97.60" y1="573.75" y2="788.25"/>
<line x1="125.20" x2="125.20" y1="573.75" y2="788.25"/>
<line x1="152.80" x2="152.80" y1="573.75" y2="788.25"/>
<line x1="180.40" x2="180.40" y1="573.75" y2="788.25"/>
<line x1="208.00" x2="208.00" y1="573.75" y2="788.25"/>
<line x1="235.60" x2="235.60" y1="573.75" y2="788.25"/>
<line x1="263.20" x2="263.20" y1="573.75" y2="788.25"/>
<line x1="290.80" x2="290.80" y1="573.75" y2="788.25"/>
<line x1="318.40" x2="318.40" y1="573.75" y2="788.25"/>
<line x1="346.00" x2="346.00" y1="573.75" y2="788.25"/>
<line x1="373.60" x2="373.60" y1="573.75" y2="788.25"/>
<line x1="401.20" x2="401.20" y1="573.75" y2="788.25"/>
<line x1="428.80" x2="428.80" y1="573.75" y2="788.25"/>
<line x1="456.40" x2="456.40" y1="573.75" y2="788.25"/>
<line x1="484.00" x2="484.00" y1="573.75" y2="788.25"/>
<line x1="511.60" x2="511.60" y1="573.75" y2="788.25"/>
<line x1="539.20" x2="539.20" y1="573.75" y2="788.25"/>
<line x1="566.80" x2="566.80" y1="573.75" y2="788.25"/>
<line x1="594.40" x2="594.40" y1="573.75" y2="788.25"/>
<line x1="70.0" x2="622.0" y1="593.25" y2="593.25"/>
<line x1="70.0" x2="622.0" y1="612.75" y2="612.75"/>
<line x1="70.0" x2="622.0" y1="632.25" y2="632.25"/>
<line x1="70.0" x2="622.0" y1="651.75" y2="651.75"/>
<line x1="70.0" x2="622.0" y1="671.25" y2="671.25"/>
<line x1="70.0" x2="622.0" y1="690.75" y2="690.75"/>
<line x1="70.0" x2="622.0" y1="710.25" y2="710.25"/>
<line x1="70.0" x2="622.0" y1="729.75" y2="729.75"/>
<line x1="70.0" x2="622.0" y1="749.25" y2="749.25"/>
<line x1="70.0" x2="622.0" y1="768.75" y2="768.75"/>
</g>
<text transform="translate(83.76,796.24) rotate(-58.0)" font-size="7.62" text-anchor="end" fill="#4d4d4d" stroke="none" x="0" y="2.7">mRNA catabolic process</text>
<text transform="translate(111.86,795.24) rotate(-58.0)" font-size="7.62" text-anchor="end" fill="#4d4d4d" stroke="none" x="0" y="2.7">mRNA destabilization</text>
<text transform="translate(140.46,794.19) rotate(-58.0)" font-size="7.62" text-anchor="end" fill="#4d4d4d" stroke="none" x="0" y="2.7">mRNA methylation</text>
<text transform="translate(168.16,794.19) rotate(-58.0)" font-size="7.62" text-anchor="end" fill="#4d4d4d" stroke="none" x="0" y="2.7">mRNA modification</text>
<text transform="translate(198.90,794.30) rotate(-58.0)" font-size="7.62" text-anchor="middle" fill="#4d4d4d" stroke="none"><tspan x="-63.18" y="-1.40">negative regulation of cellular amide</tspan><tspan x="-60.88" y="6.80">metabolic process</tspan></text>
<text transform="translate(226.50,794.30) rotate(-58.0)" font-size="7.62" text-anchor="middle" fill="#4d4d4d" stroke="none"><tspan x="-64.10" y="-1.40">negative regulation of cellular</tspan><tspan x="-62.30" y="6.80">macromolecule biosynthetic process</tspan></text>
<text transform="translate(249.76,792.04) rotate(-58.0)" font-size="7.62" text-anchor="end" fill="#4d4d4d" stroke="none" x="0" y="2.7">negative regulation of translation</text>
<text transform="translate(281.70,794.30) rotate(-58.0)" font-size="7.62" text-anchor="middle" fill="#4d4d4d" stroke="none"><tspan x="-76.10" y="-1.40">nucleobase−containing compound catabolic</tspan><tspan x="-75.10" y="6.80">process</tspan></text>
<text transform="translate(309.30,794.30) rotate(-58.0)" font-size="7.62" text-anchor="middle" fill="#4d4d4d" stroke="none"><tspan x="-61.77" y="-1.40">positive regulation of cellular amide</tspan><tspan x="-50.67" y="6.80">metabolic process</tspan></text>
<text transform="translate(336.90,794.30) rotate(-58.0)" font-size="7.62" text-anchor="middle" fill="#4d4d4d" stroke="none"><tspan x="-65.62" y="-1.40">positive regulation of mRNA catabolic</tspan><tspan x="-58.52" y="6.80">process</tspan></text>
<text transform="translate(364.50,794.30) rotate(-58.0)" font-size="7.62" text-anchor="middle" fill="#4d4d4d" stroke="none"><tspan x="-66.81" y="-1.40">positive regulation of mRNA metabolic</tspan><tspan x="-60.51" y="6.80">process</tspan></text>
<text transform="translate(388.76,791.84) rotate(-58.0)" font-size="7.62" text-anchor="end" fill="#4d4d4d" stroke="none" x="0" y="2.7">positive regulation of translation</text>
<text transform="translate(414.56,792.94) rotate(-58.0)" font-size="7.62" text-anchor="end" fill="#4d4d4d" stroke="none" x="0" y="2.7">regulation of mRNA catabolic process</text>
<text transform="translate(442.06,792.94) rotate(-58.0)" font-size="7.62" text-anchor="end" fill="#4d4d4d" stroke="none" x="0" y="2.7">regulation of mRNA metabolic process</text>
<text transform="translate(471.06,791.74) rotate(-58.0)" font-size="7.62" text-anchor="end" fill="#4d4d4d" stroke="none" x="0" y="2.7">regulation of mRNA stability</text>
<text transform="translate(498.56,791.74) rotate(-58.0)" font-size="7.62" text-anchor="end" fill="#4d4d4d" stroke="none" x="0" y="2.7">regulation of RNA stability</text>
<text transform="translate(526.16,792.04) rotate(-58.0)" font-size="7.62" text-anchor="end" fill="#4d4d4d" stroke="none" x="0" y="2.7">regulation of translation</text>
<text transform="translate(553.46,792.44) rotate(-58.0)" font-size="7.62" text-anchor="end" fill="#4d4d4d" stroke="none" x="0" y="2.7">RNA catabolic process</text>
<text transform="translate(581.56,792.04) rotate(-58.0)" font-size="7.62" text-anchor="end" fill="#4d4d4d" stroke="none" x="0" y="2.7">RNA destabilization</text>
<text transform="translate(609.56,791.64) rotate(-58.0)" font-size="7.62" text-anchor="end" fill="#4d4d4d" stroke="none" x="0" y="2.7">RNA modification</text>
<text x="599.20" y="842.00" font-size="7.5" fill="#000">fold change</text>
<rect x="599.2" y="845.8" width="9.7" height="48" fill="url(#grt)"/>
<text x="611.30" y="852.00" font-size="7.2" fill="#000">2</text>
<line x1="599.2" x2="601.1" y1="850" y2="850" stroke="#fff" stroke-width="0.4" opacity="0.6"/><line x1="607" x2="608.9" y1="850" y2="850" stroke="#fff" stroke-width="0.4" opacity="0.6"/>
<text x="611.30" y="866.10" font-size="7.2" fill="#000">1</text>
<line x1="599.2" x2="601.1" y1="864.1" y2="864.1" stroke="#fff" stroke-width="0.4" opacity="0.6"/><line x1="607" x2="608.9" y1="864.1" y2="864.1" stroke="#fff" stroke-width="0.4" opacity="0.6"/>
<text x="611.30" y="880.00" font-size="7.2" fill="#000">0</text>
<line x1="599.2" x2="601.1" y1="878" y2="878" stroke="#fff" stroke-width="0.4" opacity="0.6"/><line x1="607" x2="608.9" y1="878" y2="878" stroke="#fff" stroke-width="0.4" opacity="0.6"/>
<text x="611.30" y="894.00" font-size="7.2" fill="#000">−1</text>
<line x1="599.2" x2="601.1" y1="892" y2="892" stroke="#fff" stroke-width="0.4" opacity="0.6"/><line x1="607" x2="608.9" y1="892" y2="892" stroke="#fff" stroke-width="0.4" opacity="0.6"/>
</svg>
</body></html>
